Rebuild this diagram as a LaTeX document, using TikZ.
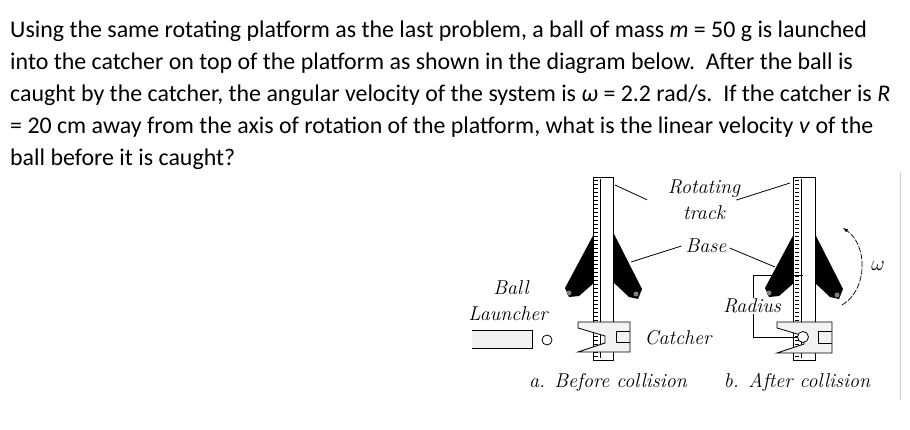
\documentclass[tikz,border=0pt]{standalone}
\usepackage{fontspec}
\setmainfont{Carlito}
\newfontfamily\lab{Latin Modern Roman}
\begin{document}
\begin{tikzpicture}[x=1pt,y=-1pt,
  txt/.style={anchor=base west,inner sep=0pt,font=\fontsize{23.9}{26}\selectfont},
  lbl/.style={inner sep=0pt,font=\lab\itshape\fontsize{20}{22}\selectfont},
  lead/.style={line width=0.8pt},
  trk/.style={draw,line width=0.9pt,fill=white},
  blk/.style={fill=black},
  catch/.style={draw,line width=0.8pt,fill=gray!10}]
\useasboundingbox (0,0) rectangle (910,430);
% text
\node[txt] (l1) at (10,38) {Using the same rotating platform as the last problem, a ball of mass \textit{m} = 50 g is launched};
\node[txt] (l2) at (10,70) {into the catcher on top of the platform as shown in the diagram below.\ \ After the ball is};
\node[txt] (l3) at (10,102) {caught by the catcher, the angular velocity of the system is \textit{ω} = 2.2 rad/s.\ \ If the catcher is \textit{R}};
\node[txt] (l4) at (10,134) {= 20 cm away from the axis of rotation of the platform, what is the linear velocity \textit{v} of the};
\node[txt] (l5) at (10,166) {ball before it is caught?};
\draw[gray!40] (900,172) -- (900,400);
% ---- left setup
\fill[blk] (596,230) -- (565,288) -- (569,297) -- (579,296) -- (595,282) -- cycle;
\fill[blk] (612,230) -- (642,289) -- (638,299) -- (629,297) -- (613,282) -- cycle;
\fill[gray] (569,293) circle (2.5) (636,294) circle (2.5);
\node[trk,minimum width=20,minimum height=183,anchor=north west] (ltrack) at (593,177) {};
\draw (600,179) -- (600,358);
\foreach \y in {180,184,...,356} \draw[line width=0.4pt] (594,\y) -- (598,\y);
\draw[catch] (578,322) -- (630,322) -- (630,352) -- (578,352) -- (605,343) -- (605,336) -- (578,328) -- cycle;
\draw[line width=0.8pt] (630,331) -- (616,331) -- (616,342) -- (630,342);
\node[catch,minimum width=60,minimum height=18,anchor=north west,draw=none] (launch) at (472,330) {};
\draw[line width=0.8pt] (472,330) -- (532,330) -- (532,348) -- (472,348);
\node[draw,circle,minimum size=10,inner sep=0pt,line width=0.8pt] (ball) at (547,340) {};
\node[lbl] (tBall) at (511,288) {Ball};
\node[lbl] (tLaunch) at (508,314) {Launcher};
\node[lbl] (tCatch) at (678,338) {Catcher};
\node[lbl] (tRot) at (704,189) {Rotating};
\node[lbl] (tTrack) at (704,213) {track};
\node[lbl] (tBase) at (706,246) {Base};
\node[lbl] (ta) at (608,382) {a. Before collision};
% ---- right setup
\fill[blk] (796,230) -- (765,288) -- (769,297) -- (779,296) -- (795,282) -- cycle;
\fill[blk] (813,230) -- (843,289) -- (839,299) -- (830,297) -- (814,282) -- cycle;
\fill[gray] (769,293) circle (2.5) (837,295) circle (2.5);
\node[trk,minimum width=22,minimum height=183,anchor=north west] (rtrack) at (793,177) {};
\draw (801,179) -- (801,358);
\foreach \y in {180,184,...,356} \draw[line width=0.4pt] (795,\y) -- (799,\y);
\draw[catch] (777,322) -- (832,322) -- (832,353) -- (777,353) -- (804,344) -- (804,336) -- (777,328) -- cycle;
\draw[line width=0.8pt] (832,331) -- (818,331) -- (818,343) -- (832,343);
\node[draw,circle,minimum size=11,inner sep=0pt,line width=0.8pt,fill=white] (rball) at (803,337) {};
\coordinate (rtop) at (803,275);
\draw[line width=0.8pt] (rtop) -- (753,275) -- (753,337) -- (rball.west);
\node[lbl,fill=white,inner sep=1pt] (tRad) at (752,306) {Radius};
\node[lbl] (tOm) at (878,266) {$\omega$};
\draw[line width=0.7pt,dash pattern=on 6pt off 1.5pt,-latex] (842,305) .. controls (868,290) and (868,245) .. (843,228);
\node[lbl] (tb) at (797,382) {b. After collision};
% leaders
\draw[lead] (tTrack.north west) ++(-36,-6) -- (615,185);
\draw[lead] (tRot.south east) ++(-4,2) -- (790,183);
\draw[lead] (tBase.west) ++(-4,0) -- (631,262);
\draw[lead] (tBase.east) ++(3,2) -- (775,267);
\end{tikzpicture}
\end{document}
